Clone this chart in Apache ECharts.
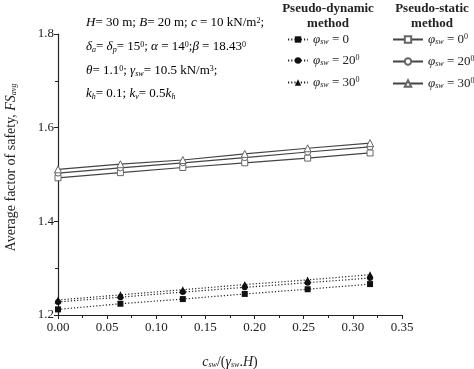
<!DOCTYPE html>
<html><head><meta charset="utf-8">
<script src="https://cdn.jsdelivr.net/npm/echarts@6/dist/echarts.min.js"></script>
<style>html,body{margin:0;padding:0;background:#fff}#c{width:474px;height:369px}</style>
</head><body><div id="c"></div>
<script>
const xValues = [0, 0.0635, 0.127, 0.190, 0.254, 0.3175];
const dyn0  = [1.212, 1.224, 1.234, 1.245, 1.255, 1.266];
const dyn20 = [1.228, 1.238, 1.249, 1.259, 1.269, 1.279];
const dyn30 = [1.232, 1.243, 1.254, 1.265, 1.275, 1.286];
const sta0  = [1.493, 1.504, 1.515, 1.525, 1.535, 1.546];
const sta20 = [1.503, 1.514, 1.525, 1.536, 1.548, 1.559];
const sta30 = [1.511, 1.522, 1.531, 1.544, 1.556, 1.567];
const xTicks = [0, 0.05, 0.10, 0.15, 0.20, 0.25, 0.30, 0.35];
const yTicks = [1.2, 1.4, 1.6, 1.8];

const FONT = 'Liberation Serif';
const pair = (ys) => xValues.map((x, i) => [x, ys[i]]);
function mkRich(fs) {
  return {
    n: {fontFamily: FONT, fontSize: fs, color: '#222'},
    i: {fontFamily: FONT, fontSize: fs, fontStyle: 'italic', color: '#222'},
    sub: {fontFamily: FONT, fontSize: 8, fontStyle: 'italic', color: '#222', verticalAlign: 'bottom', lineHeight: 8, padding: [6,0,0,0]},
    sup: {fontFamily: FONT, fontSize: 8, color: '#222', verticalAlign: 'top', lineHeight: 8, padding: [0,0,6,0]}
  };
}
const rich = mkRich(13);
const rich14 = mkRich(14);
const labels = {
  dyn0: '{i|φ}{sub|sw}{n| = 0}',
  dyn20: '{i|φ}{sub|sw}{n| = 20}{sup|0}',
  dyn30: '{i|φ}{sub|sw}{n| = 30}{sup|0}',
  sta0: '{i|φ}{sub|sw}{n| = 0}{sup|0}',
  sta20: '{i|φ}{sub|sw}{n| = 20}{sup|0}',
  sta30: '{i|φ}{sub|sw}{n| = 30}{sup|0}'
};
const notes = [
  '{i|H}{n|= 30 m; }{i|B}{n|= 20 m; }{i|c}{n| = 10 kN/m}{sup|2}{n|;}',
  '{i|δ}{sub|a}{n|= }{i|δ}{sub|p}{n|= 15}{sup|0}{n|; }{i|α}{n| = 14}{sup|0}{n|;}{i|β}{n| = 18.43}{sup|0}',
  '{i|θ}{n|= 1.1}{sup|0}{n|; }{i|γ}{sub|sw}{n|= 10.5 kN/m}{sup|3}{n|;}',
  '{i|k}{sub|h}{n|= 0.1; }{i|k}{sub|v}{n|= 0.5}{i|k}{sub|h}'
];
const noteY = [23, 47, 71, 94];
function dynSeries(name, data, symbol) {
  return {name, type: 'line', data: pair(data), symbol, symbolSize: symbol === 'triangle' ? 7 : 6,
    lineStyle: {color: '#222', width: 1.2, type: [1.2, 2]}, itemStyle: {color: '#111'}, z: 3};
}
function staSeries(name, data, symbol) {
  return {name, type: 'line', data: pair(data), symbol, symbolSize: symbol === 'triangle' ? 7 : 6,
    lineStyle: {color: '#444', width: 1.2}, itemStyle: {color: '#fff', borderColor: '#666', borderWidth: 1}, z: 2};
}
const chart = echarts.init(document.getElementById('c'));
const legendCommon = {orient: 'vertical', itemHeight: 8, itemGap: 7, padding: 0,
  formatter: (n) => labels[n], textStyle: {rich}};
chart.setOption({
  animation: false,
  grid: {left: 58, right: 72, top: 34, bottom: 54, outerBoundsMode: 'none', containLabel: false},
  xAxis: {type: 'value', min: 0, max: 0.35, interval: 0.05,
    axisLine: {lineStyle: {color: '#222', width: 1.2}},
    axisTick: {inside: false, length: 4, lineStyle: {color: '#222'}},
    minorTick: {show: true, splitNumber: 2, length: 3, lineStyle: {color: '#222'}},
    splitLine: {show: false},
    axisLabel: {fontFamily: FONT, fontSize: 13, color: '#222', margin: 6,
      formatter: (v) => xTicks.some(t => Math.abs(t - v) < 1e-9) ? v.toFixed(2) : ''},
    name: '{i|c}{sub|sw}{n|/(}{i|γ}{sub|sw}{n|.}{i|H}{n|)}', nameLocation: 'middle', nameGap: 40,
    nameTextStyle: {rich: rich14}},
  yAxis: {type: 'value', min: 1.2, max: 1.8, interval: 0.2,
    axisLine: {show: true, lineStyle: {color: '#222', width: 1.2}},
    axisTick: {show: true, inside: false, length: 4, lineStyle: {color: '#222'}},
    minorTick: {show: true, splitNumber: 2, length: 3, lineStyle: {color: '#222'}},
    splitLine: {show: false},
    axisLabel: {fontFamily: FONT, fontSize: 13, color: '#222', margin: 4,
      formatter: (v) => yTicks.some(t => Math.abs(t - v) < 1e-9) ? v.toFixed(1) : ''},
    name: '{n|Average factor of safety, }{i|FS}{sub|avg}', nameLocation: 'middle', nameGap: 40,
    nameTextStyle: {rich: rich14, padding: [0, 0, 0, 14]}},
  legend: [
    Object.assign({left: 287, top: 32, itemWidth: 20, data: ['dyn0', 'dyn20', 'dyn30']}, legendCommon),
    Object.assign({left: 392, top: 32, itemWidth: 30, data: ['sta0', 'sta20', 'sta30']}, legendCommon)
  ],
  graphic: [
    {type: 'text', x: 328, y: 1, style: {text: 'Pseudo-dynamic\nmethod', align: 'center', font: 'bold 13px "Liberation Serif"', fill: '#222', lineHeight: 15}},
    {type: 'text', x: 432, y: 1, style: {text: 'Pseudo-static\nmethod', align: 'center', font: 'bold 13px "Liberation Serif"', fill: '#222', lineHeight: 15}}
  ].concat(notes.map((t, k) => ({type: 'text', x: 86, y: noteY[k],
    style: {rich, text: t, verticalAlign: 'middle'}}))),
  series: [
    dynSeries('dyn0', dyn0, 'rect'),
    dynSeries('dyn20', dyn20, 'circle'),
    dynSeries('dyn30', dyn30, 'triangle'),
    staSeries('sta0', sta0, 'rect'),
    staSeries('sta20', sta20, 'circle'),
    staSeries('sta30', sta30, 'triangle')
  ]
});
</script></body></html>
